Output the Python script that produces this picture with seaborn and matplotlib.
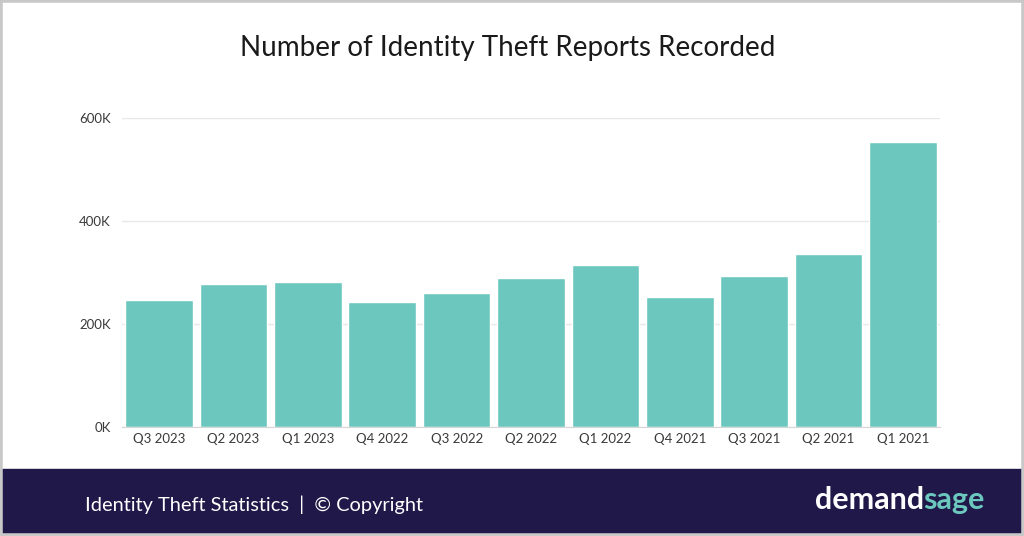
import matplotlib
matplotlib.use("Agg")
import matplotlib.pyplot as plt
import seaborn as sns
import pandas as pd
from matplotlib.patches import Rectangle
from matplotlib.ticker import FuncFormatter

quarters = ["Q3 2023", "Q2 2023", "Q1 2023", "Q4 2022", "Q3 2022", "Q2 2022",
            "Q1 2022", "Q4 2021", "Q3 2021", "Q2 2021", "Q1 2021"]
reports = [246000, 278000, 281000, 242000, 260000, 290000,
           314000, 253000, 293000, 335000, 554000]
y_ticks = [0, 200000, 400000, 600000]

bar_color = "#6cc8bf"
navy = "#1f1848"

sns.set_style("white")
plt.rcParams["font.family"] = ["Lato", "DejaVu Sans"]

df = pd.DataFrame({"quarter": quarters, "reports": reports})

fig = plt.figure(figsize=(10.24, 5.36), dpi=100)
ax = fig.add_axes([122 / 1024, 109 / 536, 818 / 1024, 309 / 536])

sns.barplot(data=df, x="quarter", y="reports", color=bar_color, saturation=1,
            width=0.91, ax=ax, zorder=3)

ax.set_xlim(-0.5, len(quarters) - 0.5)
ax.set_ylim(0, 600000)
ax.set_yticks(y_ticks)
ax.yaxis.set_major_formatter(FuncFormatter(lambda v, p: f"{int(v / 1000)}K"))
ax.grid(axis="y", color="#e8e8e8", lw=1, zorder=0)
ax.set_xlabel("")
ax.set_ylabel("")
for s in ["top", "right", "left"]:
    ax.spines[s].set_visible(False)
ax.spines["bottom"].set_color("#d6d6d6")
ax.spines["bottom"].set_zorder(4)
ax.tick_params(axis="both", length=0, labelsize=9.5, colors="#3a3a3a")
ax.tick_params(axis="x", pad=4)
ax.tick_params(axis="y", pad=8)

# title
fig.text(508 / 1024, 1 - 48 / 536, "Number of Identity Theft Reports Recorded",
         ha="center", va="center", fontsize=20, color="#1a1a1a", fontweight="normal")

# frame and footer band
fig.patches.append(Rectangle((0, 0), 1, 1, transform=fig.transFigure,
                             fill=False, edgecolor="#c8c8c8", lw=4))
fig.patches.append(Rectangle((2 / 1024, 3 / 536), 1020 / 1024, 64 / 536,
                             transform=fig.transFigure, color=navy, zorder=0))
fig.text(85 / 1024, 1 - 505 / 536, "Identity Theft Statistics  |  © Copyright",
         ha="left", va="center", fontsize=14.4, color="white", fontweight="normal")

sage = fig.text(985 / 1024, 1 - 500 / 536, "sage", ha="right", va="center",
                fontsize=22, color=bar_color, fontweight="bold")
fig.canvas.draw()
bb = sage.get_window_extent()
fig.text(bb.x0 / fig.bbox.width, 1 - 500 / 536, "demand", ha="right", va="center",
         fontsize=22, color="white", fontweight="bold")

fig.savefig("out.png", dpi=100)
